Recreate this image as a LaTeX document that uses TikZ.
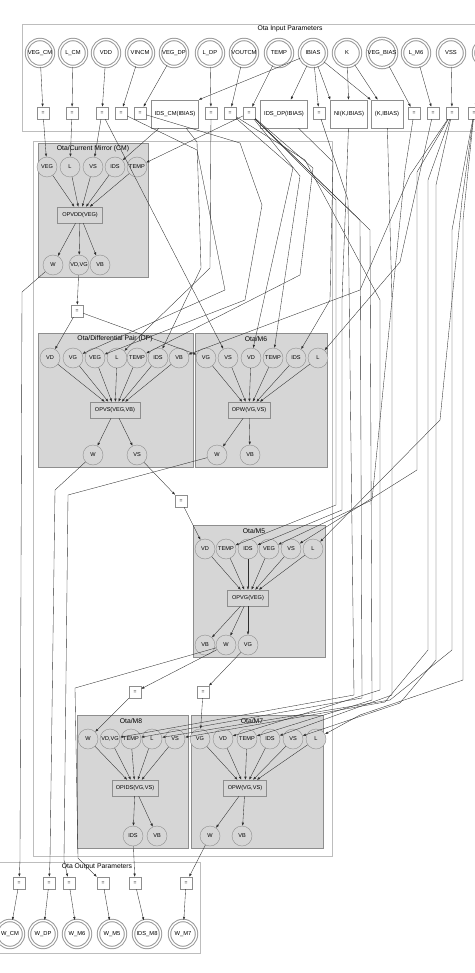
\documentclass[tikz,border=0pt]{standalone}
\usepackage{fontspec}
\setmainfont{Liberation Sans}
\usetikzlibrary{arrows.meta}
\usepackage{xcolor}
\definecolor{otafill}{HTML}{D6D6D6}
\definecolor{otaline}{HTML}{8E8E8E}
\definecolor{otaring}{HTML}{9A9A9A}
\definecolor{otaframe}{HTML}{BDBDBD}
\definecolor{otaedge}{HTML}{2E2E2E}

\begin{document}
\begin{tikzpicture}[x=1pt, y=-1pt,
  inp/.style={circle, draw=otaring, double=white, double distance=1.4pt, line width=1pt, minimum size=27pt, inner sep=0pt, font=\fontsize{5.8}{6}\selectfont},
  eqb/.style={draw=otaline, fill=white, minimum size=12pt, inner sep=0pt, font=\fontsize{5}{5}\selectfont},
  fnb/.style={draw=otaline, fill=white, minimum height=28pt, inner sep=1pt, font=\fontsize{5.8}{6}\selectfont},
  var/.style={circle, draw=otaline, fill=otafill, minimum size=20pt, inner sep=0pt, font=\fontsize{5.6}{6}\selectfont},
  opb/.style={draw=otaline, fill=otafill, minimum height=16pt, inner xsep=3pt, inner ysep=0pt, font=\fontsize{5.6}{6}\selectfont},
  clu/.style={draw=otaline, fill=otafill, line width=0.5pt},
  grp/.style={draw=otaframe, line width=0.5pt},
  ttl/.style={inner sep=0pt, font=\fontsize{6.8}{7}\selectfont},
  wire/.style={-{Latex[length=3.2pt,width=2.4pt]}, draw=otaedge, line width=0.35pt}]
  \useasboundingbox (0,0) rectangle (474,973);
  \draw[grp] (22,24) rectangle (505,131);
  \draw[grp] (33,141) rectangle (332,856);
  \draw[grp] (-5,862) rectangle (200,953);
  \draw[clu] (38,143) rectangle (148,277);
  \draw[clu] (38,333) rectangle (193,467);
  \draw[clu] (195,333) rectangle (327,467);
  \draw[clu] (193,525) rectangle (325,657);
  \draw[clu] (77,715) rectangle (188,848);
  \draw[clu] (191,715) rectangle (323,848);

  \node[ttl] (tIn) at (290,29) {Ota Input Parameters};
  \node[ttl] (tCM) at (93,149) {Ota/Current Mirror (CM)};
  \node[ttl] (tDP) at (115,339) {Ota/Differential Pair (DP)};
  \node[ttl] (tM6) at (256,339) {Ota/M6};
  \node[ttl] (tM5) at (254,531) {Ota/M5};
  \node[ttl] (tM8) at (131,721) {Ota/M8};
  \node[ttl] (tM7) at (252,721) {Ota/M7};
  \node[ttl] (tOut) at (97,867) {Ota Output Parameters};

  \node[inp] (iVegCM) at (40,53) {VEG\_CM};
  \node[inp] (iLCM) at (73,53) {L\_CM};
  \node[inp] (iVDD) at (106,53) {VDD};
  \node[inp] (iVINCM) at (140,53) {VINCM};
  \node[inp] (iVegDP) at (174,53) {VEG\_DP};
  \node[inp] (iLDP) at (210,53) {L\_DP};
  \node[inp] (iVOUTCM) at (244,53) {VOUTCM};
  \node[inp] (iTEMP) at (279,53) {TEMP};
  \node[inp] (iIBIAS) at (313,53) {IBIAS};
  \node[inp] (iK) at (347,53) {K};
  \node[inp] (iVegBias) at (382,53) {VEG\_BIAS};
  \node[inp] (iLM6) at (416,53) {L\_M6};
  \node[inp] (iVSS) at (451,53) {VSS};
  \node[inp] (iX) at (487,53) {};

  \node[eqb] (q1) at (43,113) {=};
  \node[eqb] (q2) at (72,113) {=};
  \node[eqb] (q3) at (102,113) {=};
  \node[eqb] (q4) at (121,113) {=};
  \node[eqb] (q5) at (140,113) {=};
  \node[fnb, minimum width=47pt] (fCM) at (175,114) {IDS\_CM(IBIAS)};
  \node[eqb] (q6) at (211,113) {=};
  \node[eqb] (q7) at (230,113) {=};
  \node[eqb] (q8) at (249,113) {=};
  \node[fnb, minimum width=47pt] (fDP) at (284,114) {IDS\_DP(IBIAS)};
  \node[eqb] (q9) at (319,113) {=};
  \node[fnb, minimum width=37pt] (fNI) at (349,114) {NI(K,IBIAS)};
  \node[fnb, minimum width=32pt] (fK) at (387,114) {(K,IBIAS)};
  \node[eqb] (q10) at (414,113) {=};
  \node[eqb] (q11) at (433,113) {=};
  \node[eqb] (q12) at (452,113) {=};
  \node[eqb] (q13) at (474,113) {=};

  \node[var] (cmVEG) at (47,167) {VEG};
  \node[var] (cmL) at (70,167) {L};
  \node[var] (cmVS) at (93,167) {VS};
  \node[var] (cmIDS) at (115,167) {IDS};
  \node[var] (cmTEMP) at (137,167) {TEMP};
  \node[opb, minimum width=45pt] (cmOP) at (80,215) {OPVDD(VEG)};
  \node[var] (cmW) at (53,265) {W};
  \node[var] (cmVDVG) at (79,265) {VD,VG};
  \node[var] (cmVB) at (100,265) {VB};

  \node[eqb] (qA) at (77,311) {=};

  \node[var] (dpVD) at (50,358) {VD};
  \node[var] (dpVG) at (73,358) {VG};
  \node[var] (dpVEG) at (95,358) {VEG};
  \node[var] (dpL) at (117,358) {L};
  \node[var] (dpTEMP) at (137,358) {TEMP};
  \node[var] (dpIDS) at (158,358) {IDS};
  \node[var] (dpVB) at (179,358) {VB};
  \node[opb, minimum width=50pt] (dpOP) at (115,410) {OPVS(VEG,VB)};
  \node[var] (dpW) at (93,455) {W};
  \node[var] (dpVS) at (137,455) {VS};

  \node[var] (m6VG) at (206,358) {VG};
  \node[var] (m6VS) at (228,358) {VS};
  \node[var] (m6VD) at (251,358) {VD};
  \node[var] (m6TEMP) at (273,358) {TEMP};
  \node[var] (m6IDS) at (296,358) {IDS};
  \node[var] (m6L) at (318,358) {L};
  \node[opb, minimum width=42pt] (m6OP) at (249,410) {OPW(VG,VS)};
  \node[var] (m6W) at (217,455) {W};
  \node[var] (m6VB) at (250,455) {VB};

  \node[eqb] (qB) at (181,501) {=};

  \node[var] (m5VD) at (205,549) {VD};
  \node[var] (m5TEMP) at (226,549) {TEMP};
  \node[var] (m5IDS) at (248,549) {IDS};
  \node[var] (m5VEG) at (269,549) {VEG};
  \node[var] (m5VS) at (291,549) {VS};
  \node[var] (m5L) at (313,549) {L};
  \node[opb, minimum width=41pt] (m5OP) at (248,598) {OPVG(VEG)};
  \node[var] (m5VB) at (205,645) {VB};
  \node[var] (m5W) at (226,645) {W};
  \node[var] (m5VG) at (248,645) {VG};

  \node[eqb] (qC) at (135,692) {=};
  \node[eqb] (qD) at (203,692) {=};

  \node[var] (m8W) at (88,739) {W};
  \node[var] (m8VDVG) at (110,739) {VD,VG};
  \node[var] (m8TEMP) at (131,739) {TEMP};
  \node[var] (m8L) at (152,739) {L};
  \node[var] (m8VS) at (175,739) {VS};
  \node[opb, minimum width=46pt] (m8OP) at (135,788) {OPIDS(VG,VS)};
  \node[var] (m8IDS) at (133,836) {IDS};
  \node[var] (m8VB) at (157,836) {VB};

  \node[var] (m7VG) at (200,739) {VG};
  \node[var] (m7VD) at (223,739) {VD};
  \node[var] (m7TEMP) at (247,739) {TEMP};
  \node[var] (m7IDS) at (270,739) {IDS};
  \node[var] (m7VS) at (293,739) {VS};
  \node[var] (m7L) at (316,739) {L};
  \node[opb, minimum width=43pt] (m7OP) at (245,788) {OPW(VG,VS)};
  \node[var] (m7W) at (210,836) {W};
  \node[var] (m7VB) at (242,836) {VB};

  \node[eqb] (oq1) at (19,883) {=};
  \node[eqb] (oq2) at (49,883) {=};
  \node[eqb] (oq3) at (69,883) {=};
  \node[eqb] (oq4) at (103,883) {=};
  \node[eqb] (oq5) at (135,883) {=};
  \node[eqb] (oq6) at (186,883) {=};
  \node[inp] (oWCM) at (10,934) {W\_CM};
  \node[inp] (oWDP) at (43,934) {W\_DP};
  \node[inp] (oWM6) at (77,934) {W\_M6};
  \node[inp] (oWM5) at (112,934) {W\_M5};
  \node[inp] (oIDSM8) at (147,934) {IDS\_M8};
  \node[inp] (oWM7) at (183,934) {W\_M7};

  \draw[wire] (iVegCM) -- (q1);
  \draw[wire] (iLCM) -- (q2);
  \draw[wire] (iVDD) -- (q3);
  \draw[wire] (iVINCM) -- (q4);
  \draw[wire] (iVegDP) -- (q5);
  \draw[wire] (iLDP) -- (q6);
  \draw[wire] (iVOUTCM) -- (q7);
  \draw[wire] (iTEMP) -- (q8);
  \draw[wire] (iIBIAS) -- (fCM.north east);
  \draw[wire] (iIBIAS) -- (fDP);
  \draw[wire] (iIBIAS) -- (q9);
  \draw[wire] (iIBIAS) -- (fNI.north west);
  \draw[wire] (iIBIAS) -- (fK.north west);
  \draw[wire] (iK) -- (fNI);
  \draw[wire] (iK) -- (fK);
  \draw[wire] (iVegBias) -- (q10);
  \draw[wire] (iLM6) -- (q11);
  \draw[wire] (iVSS) -- (q12);
  \draw[wire] (iX) -- (q13);

  \draw[wire] (q1) -- (cmVEG);
  \draw[wire] (q2) -- (cmL);
  \draw[wire] (q3) -- (cmVS);
  \draw[wire] (fCM) -- (cmIDS);
  \draw[wire] (q8) -- (cmTEMP);
  \draw[wire] (cmVEG) -- (cmOP);
  \draw[wire] (cmL) -- (cmOP);
  \draw[wire] (cmVS) -- (cmOP);
  \draw[wire] (cmIDS) -- (cmOP);
  \draw[wire] (cmTEMP) -- (cmOP);
  \draw[wire] (cmOP) -- (cmW);
  \draw[wire] (cmOP) -- (cmVDVG);
  \draw[wire] (cmOP) -- (cmVB);
  \draw[wire] (cmVDVG) -- (qA);
  \draw[wire] (cmW) -- (22,292) -- (20,860) -- (oq1);

  \draw[wire] (qA) -- (dpVD);
  \draw[wire] (q4) -- (197,150) -- (225,290) -- (dpVG);
  \draw[wire] (q5) -- (240,143) -- (262,205) -- (245,300) -- (dpVEG);
  \draw[wire] (q6) -- (210,268) -- (dpL);
  \draw[wire] (q8) -- (313,168) -- (300,275) -- (dpTEMP);
  \draw[wire] (fCM) -- (197,142) -- (201,268) -- (dpIDS);
  \draw[wire] (q12) -- (410,175) -- (360,290) -- (dpVB);
  \draw[wire] (dpVD) -- (dpOP);
  \draw[wire] (dpVG) -- (dpOP);
  \draw[wire] (dpVEG) -- (dpOP);
  \draw[wire] (dpL) -- (dpOP);
  \draw[wire] (dpTEMP) -- (dpOP);
  \draw[wire] (dpIDS) -- (dpOP);
  \draw[wire] (dpVB) -- (dpOP);
  \draw[wire] (dpOP) -- (dpW);
  \draw[wire] (dpOP) -- (dpVS);
  \draw[wire] (dpW) -- (55,490) -- (50,860) -- (oq2);
  \draw[wire] (dpVS) -- (qB);

  \draw[wire] (qA) -- (m6VG);
  \draw[wire] (q3) -- (m6VS);
  \draw[wire] (q7) -- (293,168) -- (m6VD);
  \draw[wire] (q8) -- (300,176) -- (m6TEMP);
  \draw[wire] (fDP) -- (333,162) -- (330,300) -- (m6IDS);
  \draw[wire] (q11) -- (400,262) -- (m6L);
  \draw[wire] (m6VG) -- (m6OP);
  \draw[wire] (m6VS) -- (m6OP);
  \draw[wire] (m6VD) -- (m6OP);
  \draw[wire] (m6TEMP) -- (m6OP);
  \draw[wire] (m6IDS) -- (m6OP);
  \draw[wire] (m6L) -- (m6OP);
  \draw[wire] (m6OP) -- (m6W);
  \draw[wire] (m6OP) -- (m6VB);
  \draw[wire] (m6W) -- (68,495) -- (64,860) -- (oq3);

  \draw[wire] (qB) -- (m5VD);
  \draw[wire] (q8) -- (336,200) -- (336,505) -- (m5TEMP);
  \draw[wire] (fNI) -- (342,300) -- (342,510) -- (m5IDS);
  \draw[wire] (q10) -- (405,170) -- (372,500) -- (m5VEG);
  \draw[wire] (q12) -- (417,172) -- (417,470) -- (m5VS);
  \draw[wire] (q13) -- (462,200) -- (440,420) -- (m5L);
  \draw[wire] (m5VD) -- (m5OP);
  \draw[wire] (m5TEMP) -- (m5OP);
  \draw[wire] (m5IDS) -- (m5OP);
  \draw[wire] (m5VEG) -- (m5OP);
  \draw[wire] (m5VS) -- (m5OP);
  \draw[wire] (m5L) -- (m5OP);
  \draw[wire] (m5OP) -- (m5VB);
  \draw[wire] (m5OP) -- (m5W);
  \draw[wire] (m5OP) -- (m5VG);
  \draw[wire] (m5W) -- (qC);
  \draw[wire] (m5W) -- (75,688) -- (78,858) -- (oq4);
  \draw[wire] (m5VG) -- (qD);

  \draw[wire] (qC) -- (m8W);
  \draw[wire] (q9) -- (348,200) -- (354,695) -- (m8VDVG);
  \draw[wire] (q8) -- (360,220) -- (362,698) -- (m8TEMP);
  \draw[wire] (q13) -- (452,230) -- (452,650) -- (390,700) -- (m8L);
  \draw[wire] (q12) -- (428,180) -- (428,650) -- (385,702) -- (m8VS);
  \draw[wire] (m8W) -- (m8OP);
  \draw[wire] (m8VDVG) -- (m8OP);
  \draw[wire] (m8TEMP) -- (m8OP);
  \draw[wire] (m8L) -- (m8OP);
  \draw[wire] (m8VS) -- (m8OP);
  \draw[wire] (m8OP) -- (m8IDS);
  \draw[wire] (m8OP) -- (m8VB);
  \draw[wire] (m8IDS) -- (oq5);

  \draw[wire] (qD) -- (m7VG);
  \draw[wire] (q7) -- (305,160) -- (380,300) -- (380,690) -- (m7VD);
  \draw[wire] (q8) -- (370,230) -- (372,700) -- (m7TEMP);
  \draw[wire] (fK) -- (392,300) -- (392,695) -- (m7IDS);
  \draw[wire] (q12) -- (436,185) -- (436,660) -- (400,703) -- (m7VS);
  \draw[wire] (q13) -- (463,220) -- (463,680) -- (360,715) -- (m7L);
  \draw[wire] (m7VG) -- (m7OP);
  \draw[wire] (m7VD) -- (m7OP);
  \draw[wire] (m7TEMP) -- (m7OP);
  \draw[wire] (m7IDS) -- (m7OP);
  \draw[wire] (m7VS) -- (m7OP);
  \draw[wire] (m7L) -- (m7OP);
  \draw[wire] (m7OP) -- (m7W);
  \draw[wire] (m7OP) -- (m7VB);
  \draw[wire] (m7W) -- (oq6);

  \draw[wire] (oq1) -- (oWCM);
  \draw[wire] (oq2) -- (oWDP);
  \draw[wire] (oq3) -- (oWM6);
  \draw[wire] (oq4) -- (oWM5);
  \draw[wire] (oq5) -- (oIDSM8);
  \draw[wire] (oq6) -- (oWM7);
\end{tikzpicture}
\end{document}
